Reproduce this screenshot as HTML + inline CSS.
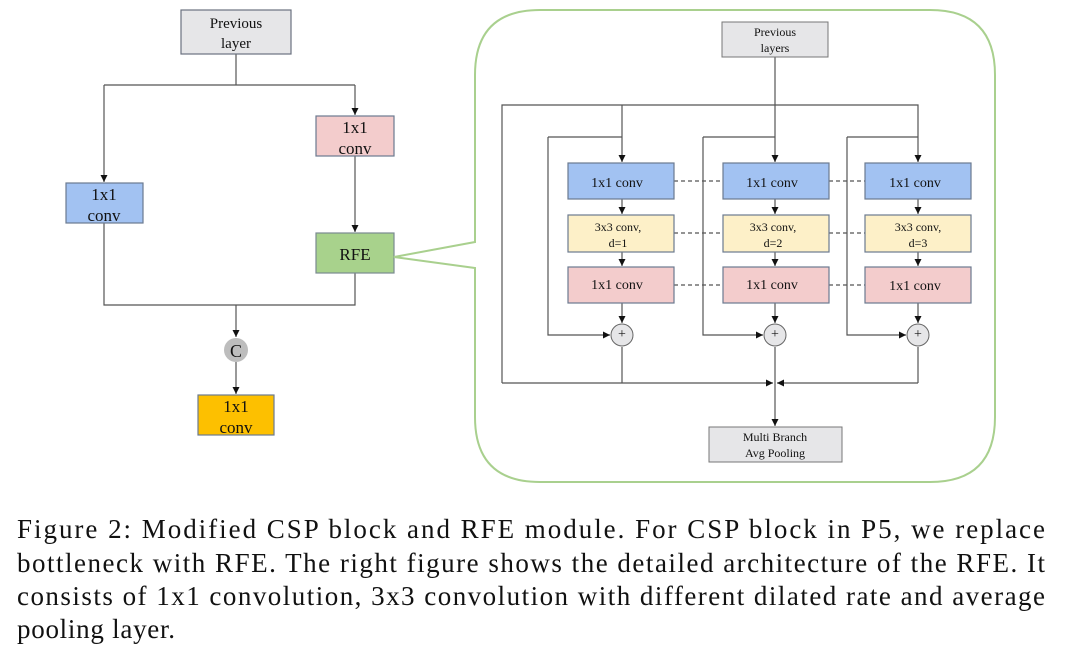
<!DOCTYPE html>
<html><head><meta charset="utf-8"><style>
html,body{margin:0;padding:0;background:#fff;width:1069px;height:656px;overflow:hidden}
svg{display:block}
text{font-family:"Liberation Serif",serif;fill:#111}
</style></head><body>
<svg width="1069" height="656" viewBox="0 0 1069 656" xmlns="http://www.w3.org/2000/svg">
<defs>
<marker id="a" viewBox="0 0 10 10" refX="10" refY="5" markerWidth="6" markerHeight="6" orient="auto"><path d="M0,0L10,5L0,10z" fill="#111"/></marker>
</defs>
<g stroke="#555" stroke-width="1.2" fill="none">
<path d="M236,54V85"/>
<path d="M104,85H355"/>
<path d="M104,85V182" marker-end="url(#a)"/>
<path d="M355,85V115" marker-end="url(#a)"/>
<path d="M355,156V232" marker-end="url(#a)"/>
<path d="M104,223V305H355V273"/>
<path d="M236,305V337" marker-end="url(#a)"/>
<path d="M236,362V394" marker-end="url(#a)"/>
</g>
<rect x="181" y="10" width="110" height="44" fill="#e6e6e8" stroke="#6b7280" stroke-width="1.2"/>
<text x="236" y="28" font-size="15" text-anchor="middle">Previous</text>
<text x="236" y="48" font-size="15" text-anchor="middle">layer</text>
<rect x="316" y="116" width="78" height="40" fill="#f3cccc" stroke="#6b7a90" stroke-width="1.2"/>
<text x="355" y="133" font-size="17" text-anchor="middle">1x1</text>
<text x="355" y="154" font-size="17" text-anchor="middle">conv</text>
<rect x="66" y="183" width="77" height="40" fill="#a2c2f2" stroke="#6b7a90" stroke-width="1.2"/>
<text x="104" y="200" font-size="17" text-anchor="middle">1x1</text>
<text x="104" y="221" font-size="17" text-anchor="middle">conv</text>
<rect x="316" y="233" width="78" height="40" fill="#a8d28c" stroke="#7a8a90" stroke-width="1.2"/>
<text x="355" y="260" font-size="17" text-anchor="middle">RFE</text>
<circle cx="236" cy="350" r="12" fill="#bdbdbd"/>
<text x="236" y="357" font-size="18" text-anchor="middle">C</text>
<rect x="198" y="395" width="76" height="40" fill="#fdc000" stroke="#6b7a90" stroke-width="1.2"/>
<text x="236" y="412" font-size="17" text-anchor="middle">1x1</text>
<text x="236" y="433" font-size="17" text-anchor="middle">conv</text>
<path d="M540,10H930Q995,10 995,75V417Q995,482 930,482H540Q475,482 475,417V268L394,257L475,242V75Q475,10 540,10Z" fill="none" stroke="#a9d08e" stroke-width="2"/>
<g stroke="#555" stroke-width="1.2" fill="none">
<path d="M775,57V162" marker-end="url(#a)"/>
<path d="M502,383V105H918V162" marker-end="url(#a)"/>
<path d="M622,105V162" marker-end="url(#a)"/>
<path d="M548,137H622"/><path d="M548,137V335H610" marker-end="url(#a)"/>
<path d="M703,137H775"/><path d="M703,137V335H763" marker-end="url(#a)"/>
<path d="M847,137H918"/><path d="M847,137V335H906" marker-end="url(#a)"/>
<path d="M622,199V214" marker-end="url(#a)"/><path d="M775,199V214" marker-end="url(#a)"/><path d="M918,199V214" marker-end="url(#a)"/>
<path d="M622,252V266" marker-end="url(#a)"/><path d="M775,252V266" marker-end="url(#a)"/><path d="M918,252V266" marker-end="url(#a)"/>
<path d="M622,303V323" marker-end="url(#a)"/><path d="M775,303V323" marker-end="url(#a)"/><path d="M918,303V323" marker-end="url(#a)"/>
<path d="M622,347V383"/><path d="M918,347V383"/>
<path d="M502,383H773" marker-end="url(#a)"/>
<path d="M918,383H777" marker-end="url(#a)"/>
<path d="M775,347V426" marker-end="url(#a)"/>
<path d="M674,181H723M829,181H865M674,233H723M829,233H865M674,285H723M829,285H865" stroke-dasharray="4,3"/>
</g>
<rect x="722" y="22" width="106" height="35" fill="#e6e6e8" stroke="#777" stroke-width="1"/>
<text x="775" y="36" font-size="12" text-anchor="middle">Previous</text>
<text x="775" y="52" font-size="12" text-anchor="middle">layers</text>
<g stroke="#6b7a90" stroke-width="1.2">
<rect x="568" y="163" width="106" height="36" fill="#a2c2f2"/>
<rect x="723" y="163" width="106" height="36" fill="#a2c2f2"/>
<rect x="865" y="163" width="106" height="36" fill="#a2c2f2"/>
<rect x="568" y="215" width="106" height="37" fill="#fdf0c8"/>
<rect x="723" y="215" width="106" height="37" fill="#fdf0c8"/>
<rect x="865" y="215" width="106" height="37" fill="#fdf0c8"/>
<rect x="568" y="267" width="106" height="36" fill="#f3cccc"/>
<rect x="723" y="267" width="106" height="36" fill="#f3cccc"/>
<rect x="865" y="267" width="106" height="36" fill="#f3cccc"/>
</g>
<g font-size="14" text-anchor="middle">
<text x="617" y="187">1x1 conv</text><text x="772" y="187">1x1 conv</text><text x="915" y="187">1x1 conv</text>
<text x="617" y="289">1x1 conv</text><text x="772" y="289">1x1 conv</text><text x="915" y="290">1x1 conv</text>
</g>
<g font-size="12" text-anchor="middle">
<text x="618" y="231">3x3 conv,</text><text x="618" y="247">d=1</text>
<text x="773" y="231">3x3 conv,</text><text x="773" y="247">d=2</text>
<text x="918" y="231">3x3 conv,</text><text x="918" y="247">d=3</text>
</g>
<g fill="#e6e6e8" stroke="#666" stroke-width="1">
<circle cx="622" cy="335" r="11"/><circle cx="775" cy="335" r="11"/><circle cx="918" cy="335" r="11"/>
</g>
<g font-size="14" text-anchor="middle"><text x="622" y="338">+</text><text x="775" y="338">+</text><text x="918" y="338">+</text></g>
<rect x="709" y="427" width="133" height="35" fill="#e6e6e8" stroke="#777" stroke-width="1"/>
<text x="775" y="441" font-size="12" text-anchor="middle">Multi Branch</text>
<text x="775" y="457" font-size="12" text-anchor="middle">Avg Pooling</text>
<g font-size="27">
<text x="17" y="538" textLength="1028" lengthAdjust="spacing">Figure 2:  Modified CSP block and RFE module.  For CSP block in P5, we replace</text>
<text x="17" y="572" textLength="1028" lengthAdjust="spacing">bottleneck with RFE. The right figure shows the detailed architecture of the RFE. It</text>
<text x="17" y="605" textLength="1028" lengthAdjust="spacing">consists of 1x1 convolution, 3x3 convolution with different dilated rate and average</text>
<text x="17" y="638" textLength="158" lengthAdjust="spacing">pooling layer.</text>
</g>
</svg>
</body></html>
